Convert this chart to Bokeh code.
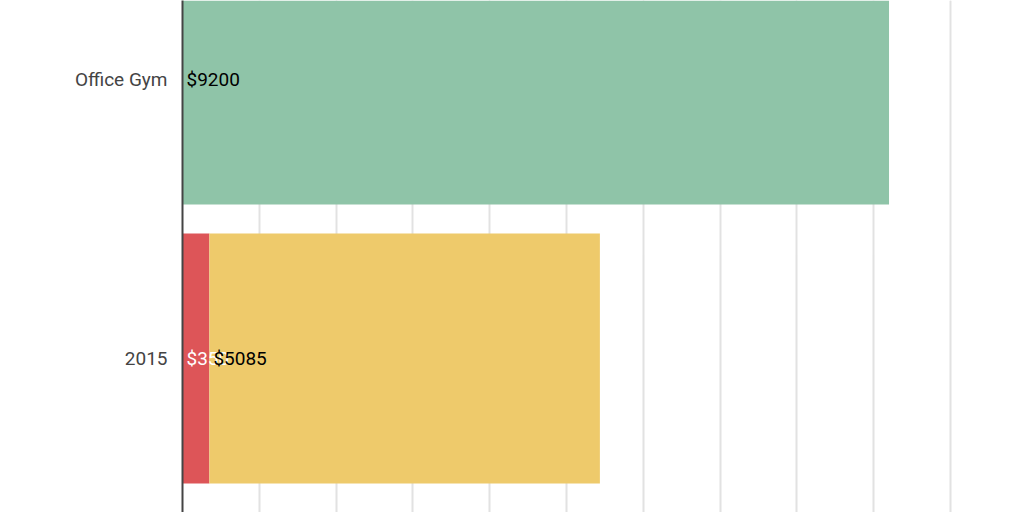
from bokeh.plotting import figure
from bokeh.models import Range1d, FixedTicker, Grid, ColumnDataSource
from bokeh.core.properties import value
from bokeh.embed import file_html
from bokeh.resources import INLINE

# Data
categories = ["2015", "Office Gym"]
red_values = [350, 0]
yellow_values = [5085, 0]
green_values = [0, 9200]
grid_ticks = [1000, 2000, 3000, 4000, 5000, 6000, 7000, 8000, 9000, 10000]

ypos = list(range(len(categories)))

p = figure(width=1024, height=512, output_backend="svg", toolbar_location=None,
           x_range=Range1d(0, 10964), y_range=Range1d(-0.5519, 1.2832),
           x_axis_location=None, min_border_left=182, min_border_right=0,
           min_border_top=0, min_border_bottom=0)
p.outline_line_color = None
p.background_fill_color = "white"
p.border_fill_color = "white"

grid = Grid(dimension=0, ticker=FixedTicker(ticks=grid_ticks),
            grid_line_color="#e2e2e2", grid_line_width=2)
p.add_layout(grid)
p.ygrid.visible = False

# stacked segments
red_left = [0 for _ in ypos]
red_right = [l + v for l, v in zip(red_left, red_values)]
yellow_left = red_right
yellow_right = [l + v for l, v in zip(yellow_left, yellow_values)]
green_left = yellow_right
green_right = [l + v for l, v in zip(green_left, green_values)]

bar_h = 0.896
p.hbar(y=ypos, left=red_left, right=red_right, height=bar_h, color="#dd5558", line_color=None)
p.hbar(y=ypos, left=yellow_left, right=yellow_right, height=bar_h, color="#eeca6b", line_color=None)
p.hbar(y=ypos, left=green_left, right=green_right, height=bar_h, color="#8fc4a8", line_color=None)

def labels(left, vals, color):
    xs, ys, ts = [], [], []
    for l, v, y in zip(left, vals, ypos):
        if v > 0:
            xs.append(l); ys.append(y); ts.append("$" + str(v))
    src = ColumnDataSource(dict(x=xs, y=ys, t=ts))
    p.text(x="x", y="y", text="t", source=src, x_offset=4, text_align="left",
           text_baseline="middle", text_font=value("Roboto"), text_font_size="19px",
           text_color=color)

labels(red_left, red_values, "white")
labels(yellow_left, yellow_values, "black")
labels(green_left, green_values, "black")

ax = p.yaxis[0]
ax.ticker = FixedTicker(ticks=ypos)
ax.major_label_overrides = {i: c for i, c in zip(ypos, categories)}
ax.axis_line_color = "#444444"
ax.axis_line_width = 2
ax.major_tick_line_color = None
ax.minor_tick_line_color = None
ax.major_label_text_font = "Roboto"
ax.major_label_text_font_size = "19px"
ax.major_label_text_color = "#444444"
ax.major_label_standoff = 9

open("out.html", "w").write(file_html(p, INLINE))
